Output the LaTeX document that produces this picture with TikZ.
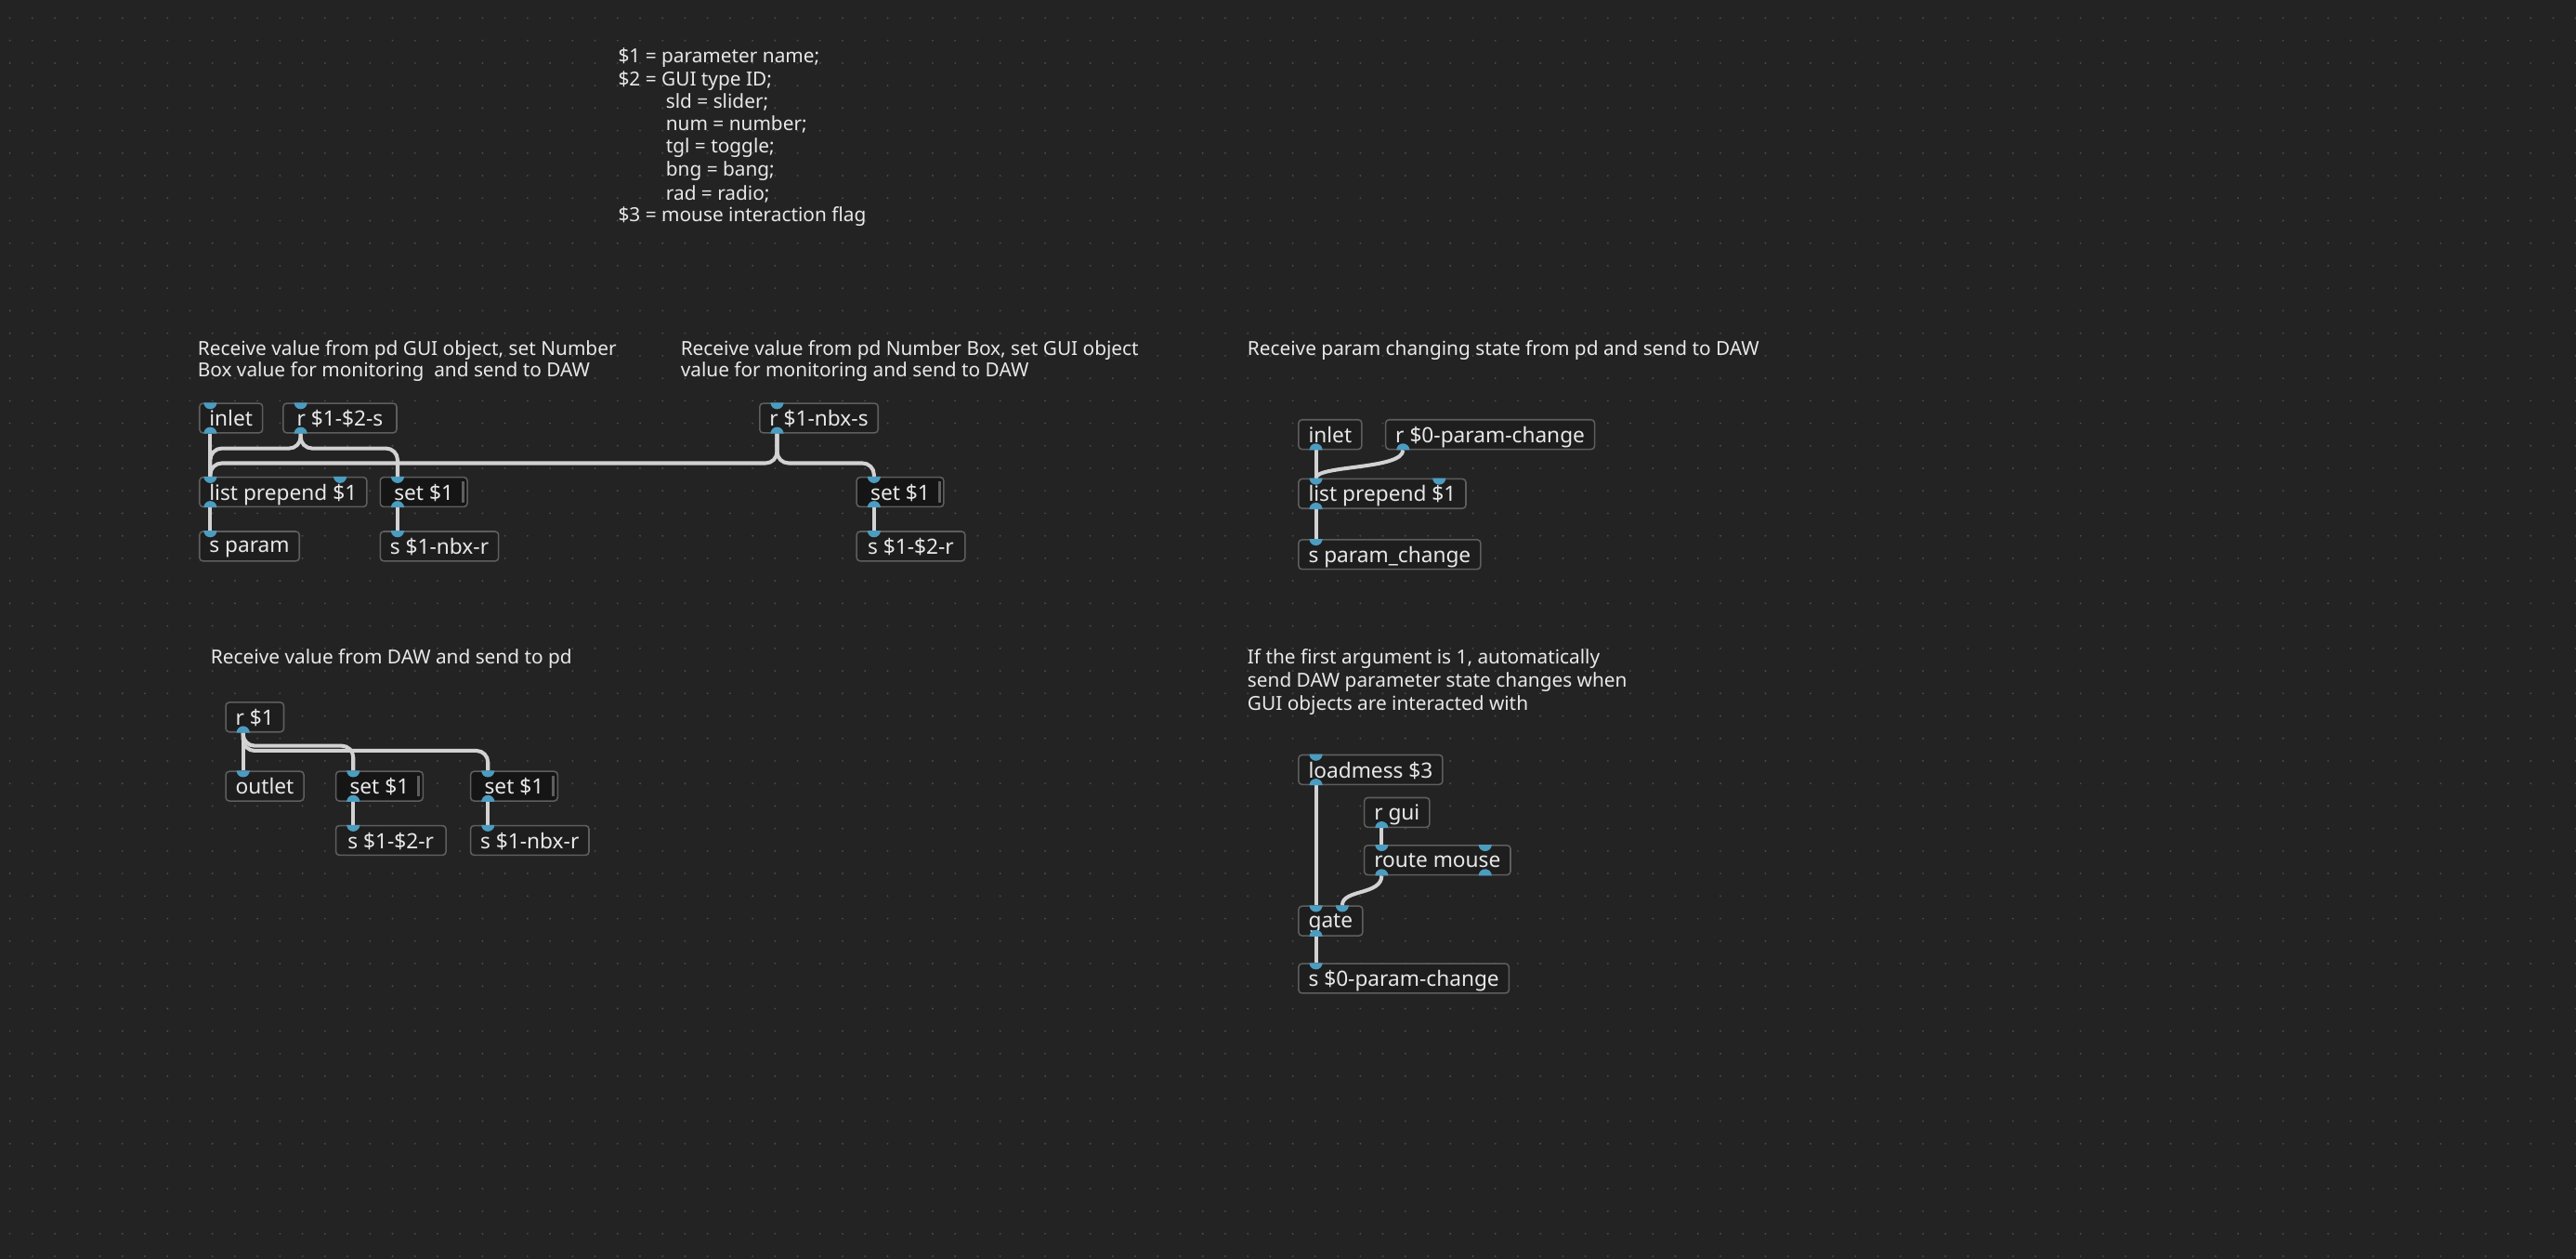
\documentclass[tikz,border=0pt]{standalone}
\usepackage{fontspec}
\setmainfont{Noto Sans}
\usetikzlibrary{calc}
\definecolor{bg}{HTML}{232323}
\definecolor{boxfill}{HTML}{1E1E1E}
\definecolor{msgfill}{HTML}{151515}
\definecolor{boxline}{HTML}{5E5E5E}
\definecolor{txt}{HTML}{E8E8E8}
\definecolor{cable}{HTML}{D2D2D2}
\definecolor{portc}{HTML}{4C9CC0}
\definecolor{gridc}{HTML}{4A4A4A}
\tikzset{
  obj/.style={draw=boxline, line width=0.5pt, fill=boxfill, rounded corners=1.2pt, anchor=north west,
    minimum width=#1*0.02cm, minimum height=0.36cm, inner xsep=0.12cm, inner ysep=0pt,
    text=txt, font=\fontsize{7.3}{9}\selectfont, align=left, text depth=0pt},
  msg/.style={obj=#1, fill=msgfill},
  cmt/.style={anchor=west, text=txt, inner sep=0pt, font=\fontsize{6.7}{8}\selectfont},
  wire/.style={draw=cable, line width=1.3pt, rounded corners=0.14cm},
  port/.style={fill=portc}
}
\newcommand\pin[2]{\fill[port] ($(#1.north west)+(#2,0)$) ++(-0.08cm,0) arc[start angle=180,end angle=360,radius=0.08cm] -- cycle;}
\newcommand\pout[2]{\fill[port] ($(#1.south west)+(#2,0)$) ++(-0.08cm,0) arc[start angle=180,end angle=0,radius=0.08cm] -- cycle;}
\newcommand\flag[1]{\draw[boxline, line width=1pt] ($(#1.north east)+(-3,3)$) -- ($(#1.south east)+(-3,-3)$);}
\begin{document}
\begin{tikzpicture}[x=0.02cm,y=-0.02cm]
\useasboundingbox (0,0) rectangle (1568,766);
\fill[bg] (0,0) rectangle (1568,766);
\foreach \i in {0,...,114} \foreach \j in {0,...,55}
  \fill[gridc] (6+\i*13.7,11+\j*13.7) circle[radius=0.012cm];
% header comment
\node[cmt] (h1) at (376,35) {\$1 = parameter name;};
\node[cmt] (h2) at (376,49) {\$2 = GUI type ID;};
\node[cmt] (h3) at (405,62) {sld = slider;};
\node[cmt] (h4) at (405,76) {num = number;};
\node[cmt] (h5) at (405,90) {tgl = toggle;};
\node[cmt] (h6) at (405,104) {bng = bang;};
\node[cmt] (h7) at (405,118) {rad = radio;};
\node[cmt] (h8) at (376,132) {\$3 = mouse interaction flag};
\node[cmt] (a1) at (120,213) {Receive value from pd GUI object, set Number};
\node[cmt] (a2) at (120,226) {Box value for monitoring\ \ and send to DAW};
\node[cmt] (b1) at (414,213) {Receive value from pd Number Box, set GUI object};
\node[cmt] (b2) at (414,226) {value for monitoring and send to DAW};
\node[cmt] (c1) at (759,213) {Receive param changing state from pd and send to DAW};
\node[cmt] (d1) at (128,401) {Receive value from DAW and send to pd};
\node[cmt] (e1) at (759,401) {If the first argument is 1, automatically};
\node[cmt] (e2) at (759,415) {send DAW parameter state changes when};
\node[cmt] (e3) at (759,429) {GUI objects are interacted with};
% boxes group A/B
\node[obj=37] (inA) at (121,245) {inlet};
\node[obj=69] (rA) at (172,245) {r \$1-\$2-s};
\node[obj=98] (lpA) at (121,290) {list prepend \$1};
\node[msg=53] (setA) at (231,290) {set \$1};
\node[obj=59] (spA) at (121,323) {s param};
\node[obj=72] (snA) at (231,323) {s \$1-nbx-r};
\node[obj=69] (rB) at (462,245) {r \$1-nbx-s};
\node[msg=53] (setB) at (521,290) {set \$1};
\node[obj=66] (s2B) at (521,323) {s \$1-\$2-r};
% group C
\node[obj=37] (inC) at (790,255) {inlet};
\node[obj=126] (rC) at (843,255) {r \$0-param-change};
\node[obj=98] (lpC) at (790,291) {list prepend \$1};
\node[obj=107] (spC) at (790,328) {s param\_change};
% group D
\node[obj=35] (rD) at (137,427) {r \$1};
\node[obj=46] (outD) at (137,469) {outlet};
\node[msg=53] (setD1) at (204,469) {set \$1};
\node[msg=53] (setD2) at (286,469) {set \$1};
\node[obj=67] (s2D) at (204,502) {s \$1-\$2-r};
\node[obj=72] (snD) at (286,502) {s \$1-nbx-r};
% group E
\node[obj=87] (lmE) at (790,459) {loadmess \$3};
\node[obj=37] (rgE) at (830,485) {r gui};
\node[obj=85] (rmE) at (830,514) {route mouse};
\node[obj=39] (gE) at (790,551) {gate};
\node[obj=128] (sE) at (790,586) {s \$0-param-change};
\flag{setA}\flag{setB}\flag{setD1}\flag{setD2}
% cables
\draw[wire] ($(inA.south west)+(7,0)$) -- ($(lpA.north west)+(7,0)$);
\draw[wire] ($(rA.south west)+(11,0)$) -- ++(0,9) -| ($(lpA.north west)+(7,0)$);
\draw[wire] ($(rA.south west)+(11,0)$) -- ++(0,9) -| ($(setA.north west)+(11,0)$);
\draw[wire] ($(rB.south west)+(11,0)$) -- ++(0,18) -| ($(lpA.north west)+(7,0)$);
\draw[wire] ($(rB.south west)+(11,0)$) -- ++(0,18) -| ($(setB.north west)+(11,0)$);
\draw[wire] ($(lpA.south west)+(7,0)$) -- ($(spA.north west)+(7,0)$);
\draw[wire] ($(setA.south west)+(11,0)$) -- ($(snA.north west)+(11,0)$);
\draw[wire] ($(setB.south west)+(11,0)$) -- ($(s2B.north west)+(11,0)$);
\draw[wire] ($(inC.south west)+(11,0)$) -- ($(lpC.north west)+(11,0)$);
\draw[cable, line width=1.3pt] ($(rC.south west)+(11,0)$) .. controls ($(rC.south west)+(11,12)$) and ($(lpC.north west)+(11,-8)$) .. ($(lpC.north west)+(11,0)$);
\draw[wire] ($(lpC.south west)+(11,0)$) -- ($(spC.north west)+(11,0)$);
\draw[wire] ($(rD.south west)+(11,0)$) -- ($(outD.north west)+(11,0)$);
\draw[wire] ($(rD.south west)+(11,0)$) -- ++(0,8) -| ($(setD1.north west)+(11,0)$);
\draw[wire] ($(rD.south west)+(11,0)$) -- ++(0,11) -| ($(setD2.north west)+(11,0)$);
\draw[wire] ($(setD1.south west)+(11,0)$) -- ($(s2D.north west)+(11,0)$);
\draw[wire] ($(setD2.south west)+(11,0)$) -- ($(snD.north west)+(11,0)$);
\draw[wire] ($(lmE.south west)+(11,0)$) -- ($(gE.north west)+(11,0)$);
\draw[wire] ($(rgE.south west)+(11,0)$) -- ($(rmE.north west)+(11,0)$);
\draw[cable, line width=1.3pt] ($(rmE.south west)+(11,0)$) .. controls ($(rmE.south west)+(11,12)$) and ($(gE.north west)+(27,-10)$) .. ($(gE.north west)+(27,0)$);
\draw[wire] ($(gE.south west)+(11,0)$) -- ($(sE.north west)+(11,0)$);
% ports
\pin{inA}{7}\pout{inA}{7}
\pin{rA}{11}\pout{rA}{11}
\pin{lpA}{7}\pin{lpA}{86}\pout{lpA}{7}
\pin{setA}{11}\pout{setA}{11}
\pin{spA}{7}\pin{snA}{11}
\pin{rB}{11}\pout{rB}{11}
\pin{setB}{11}\pout{setB}{11}\pin{s2B}{11}
\pout{inC}{11}\pout{rC}{11}
\pin{lpC}{11}\pin{lpC}{86}\pout{lpC}{11}\pin{spC}{11}
\pout{rD}{11}\pin{outD}{11}
\pin{setD1}{11}\pout{setD1}{11}\pin{setD2}{11}\pout{setD2}{11}
\pin{s2D}{11}\pin{snD}{11}
\pin{lmE}{11}\pout{lmE}{11}
\pout{rgE}{11}
\pin{rmE}{11}\pin{rmE}{74}\pout{rmE}{11}\pout{rmE}{74}
\pin{gE}{11}\pin{gE}{27}\pout{gE}{11}
\pin{sE}{11}
\end{tikzpicture}
\end{document}
